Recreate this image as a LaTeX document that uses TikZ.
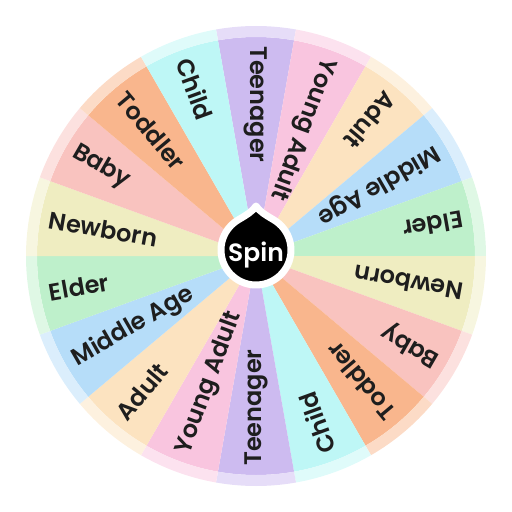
\documentclass[tikz,border=0pt]{standalone}
\usepackage{fontspec}
\setmainfont{Poppins}[BoldFont={Poppins SemiBold}]
\usepackage{tikz}
\usetikzlibrary{calc}
\definecolor{teen}{HTML}{CDBBF0}
\definecolor{yadult}{HTML}{F9C5DF}
\definecolor{adult}{HTML}{FCE3C0}
\definecolor{midage}{HTML}{B6DDF9}
\definecolor{elder}{HTML}{BEF0CB}
\definecolor{newborn}{HTML}{EFEDC1}
\definecolor{baby}{HTML}{F9C3BF}
\definecolor{toddler}{HTML}{F9B68D}
\definecolor{child}{HTML}{BEF7F6}
\definecolor{ink}{HTML}{1E1E1E}
\tikzset{
  wedge/.style={draw=none},
  slicetext/.style={font=\fontsize{24}{24}\selectfont\bfseries,text=ink,inner sep=0pt,anchor=west},
  spinbtn/.style={fill=black,draw=white,line width=7pt,line join=round}
}

\begin{document}
\begin{tikzpicture}[x=1pt,y=1pt]
\useasboundingbox (-256,-256) rectangle (256,256);
\foreach \lab/\col [count=\i from 0] in {Teenager/teen,Young Adult/yadult,Adult/adult,
    Middle Age/midage,Elder/elder,Newborn/newborn,Baby/baby,Toddler/toddler,Child/child,
    Teenager/teen,Young Adult/yadult,Adult/adult,Middle Age/midage,Elder/elder,
    Newborn/newborn,Baby/baby,Toddler/toddler,Child/child}{
  \pgfmathsetmacro{\a}{90-20*\i}
  \fill[wedge,\col] (0,0) -- (\a-10:219) arc[start angle=\a-10,end angle=\a+10,radius=219] -- cycle;
  \fill[wedge,\col!50] (\a-10:219) arc[start angle=\a-10,end angle=\a+10,radius=219]
    -- (\a+10:230) arc[start angle=\a+10,end angle=\a-10,radius=230] -- cycle;
  \node[slicetext,rotate=\a+180] (s\i) at (\a:210) {\lab};
}
\path[spinbtn] (0,50) .. controls (3,45) and (9.5,41) .. ($(0,6)+(60:35)$)
  arc[start angle=60,end angle=-240,radius=35]
  .. controls (-9.5,41) and (-3,45) .. cycle;
\node[font=\fontsize{25}{25}\selectfont\bfseries,text=white,inner sep=0pt] (spin) at (0,1) {Spin};
\end{tikzpicture}
\end{document}
